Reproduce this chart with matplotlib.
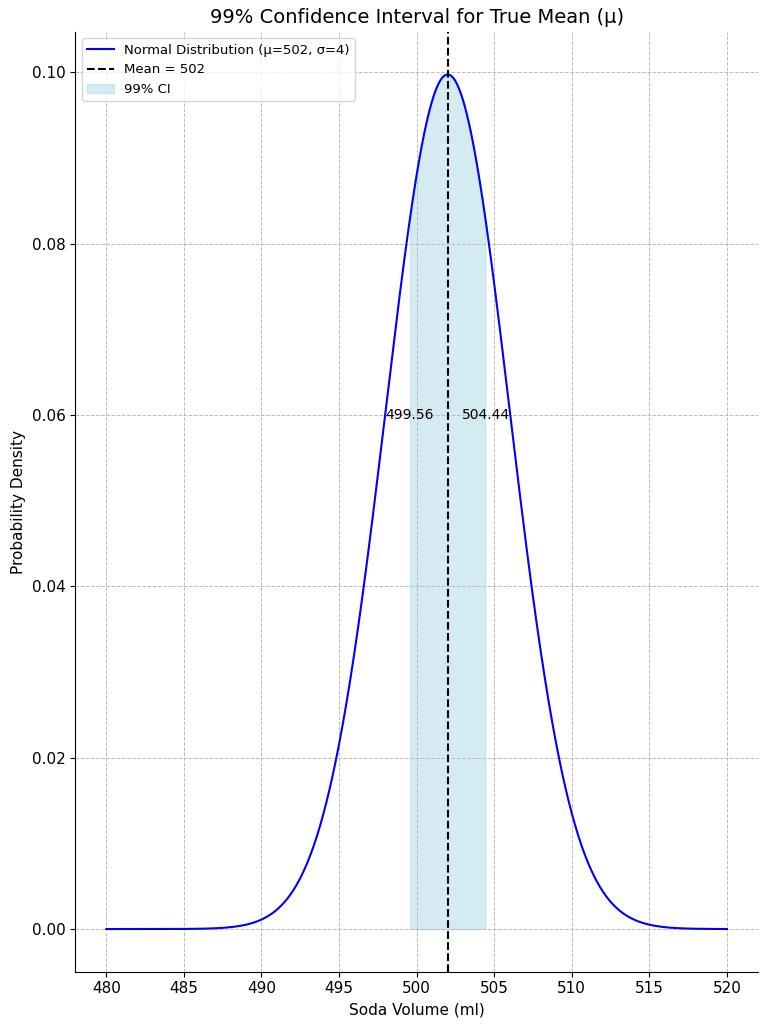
import numpy as np
import matplotlib.pyplot as plt

mu = 502
sigma = 4
ci_low = 499.56
ci_high = 504.44
x_range = (480, 520)

x = np.linspace(x_range[0], x_range[1], 1000)
pdf = np.exp(-0.5 * ((x - mu) / sigma) ** 2) / (sigma * np.sqrt(2 * np.pi))

fig, ax = plt.subplots(figsize=(7.68, 10.24), dpi=100)
fig.subplots_adjust(left=0.098, right=0.987, top=0.969, bottom=0.051)

ax.plot(x, pdf, color="blue", lw=1.5, label=f"Normal Distribution (μ={mu}, σ={sigma})")
ax.axvline(mu, color="black", ls="--", lw=1.5, label=f"Mean = {mu}")
mask = (x >= ci_low) & (x <= ci_high)
ax.fill_between(x[mask], pdf[mask], color="lightblue", alpha=0.5, label="99% CI")

ax.text(ci_low, 0.06, f"{ci_low:.2f}", ha="center", va="center", fontsize=10)
ax.text(ci_high, 0.06, f"{ci_high:.2f}", ha="center", va="center", fontsize=10)

ax.set_title("99% Confidence Interval for True Mean (μ)", fontsize=14)
ax.set_xlabel("Soda Volume (ml)", fontsize=11)
ax.set_ylabel("Probability Density", fontsize=11)
ax.grid(True, ls="--", color="#bbbbbb", lw=0.7)
ax.spines["top"].set_visible(False)
ax.spines["right"].set_visible(False)
ax.tick_params(labelsize=11)
ax.legend(loc="upper left", fontsize=9.5)

fig.savefig("out.png", dpi=100)
